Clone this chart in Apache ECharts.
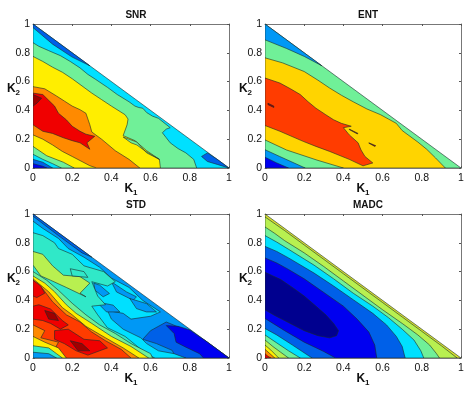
<!DOCTYPE html>
<html><head><meta charset="utf-8">
<script src="https://cdn.jsdelivr.net/npm/echarts@6/dist/echarts.min.js"></script>
<style>html,body{margin:0;padding:0;background:#fff}#c{width:474px;height:395px}</style>
</head><body><div id="c"></div>
<script>
const tickLabels = [0, 0.2, 0.4, 0.6, 0.8, 1];
const titles = ['SNR', 'ENT', 'STD', 'MADC'];
const jet = {navy:'#00008f', blue:'#0000f0', royal:'#0060e8', azure:'#0098f5', cyan:'#00e0ff', teal:'#30e8c8', green:'#70f098', lime:'#b8f050', olive:'#d8e030', yellow:'#ffee00', gold:'#ffd400', orange:'#ff8a00', tomato:'#ff3c00', red:'#f00000', dark:'#a00000'};

const whole = [[0,0],[1,0],[0,1]];

// SNR contour outlines (k1,k2)
const snrTop = [[0,1],[0.29,0.71],[0.2,0.77],[0.1,0.86],[0,0.975]];
const snrPatch = [[0.86,0.08],[0.89,0.105],[0.94,0.06],[1,0],[0.94,0.025],[0.89,0.045]];
const snrGreen = [[0,0.87],[0.03,0.845],[0.08,0.815],[0.14,0.78],[0.19,0.74],[0.24,0.695],[0.28,0.65],[0.32,0.615],[0.38,0.56],[0.43,0.51],[0.49,0.46],[0.52,0.43],[0.54,0.42],[0.56,0.415],[0.58,0.385],[0.61,0.36],[0.64,0.345],[0.7,0.28],[0.68,0.27],[0.66,0.245],[0.68,0.21],[0.7,0.175],[0.74,0.135],[0.78,0.105],[0.82,0.06],[0.835,0],[0,0]];
const snrYellow = [[0,0.775],[0.05,0.74],[0.1,0.70],[0.15,0.665],[0.2,0.62],[0.25,0.57],[0.3,0.52],[0.35,0.475],[0.4,0.43],[0.47,0.37],[0.485,0.34],[0.48,0.30],[0.46,0.225],[0.52,0.19],[0.58,0.12],[0.645,0.06],[0.65,0],[0,0]];
const snrSliver = [[0.46,0.215],[0.5,0.195],[0.53,0.18],[0.58,0.105],[0.645,0.06],[0.57,0.12],[0.53,0.16],[0.5,0.175]];
const snrOrange = [[0,0.565],[0.06,0.55],[0.12,0.50],[0.16,0.465],[0.2,0.43],[0.24,0.405],[0.27,0.38],[0.28,0.34],[0.29,0.3],[0.3,0.25],[0.35,0.2],[0.42,0.12],[0.49,0.06],[0.545,0],[0.325,0],[0.29,0.016],[0.2,0.08],[0.15,0.115],[0.1,0.16],[0.05,0.2],[0,0.23]];
const snrRed = [[0,0.52],[0.05,0.51],[0.08,0.47],[0.11,0.43],[0.13,0.38],[0.17,0.335],[0.2,0.29],[0.24,0.255],[0.27,0.235],[0.315,0.22],[0.275,0.175],[0.29,0.13],[0.24,0.175],[0.2,0.19],[0.155,0.21],[0.1,0.24],[0.05,0.255],[0,0.30]];
const snrDark = [[0,0.51],[0.044,0.485],[0.02,0.45],[0,0.43]];
const snrCornerGreen = [[0,0.15],[0.07,0.085],[0.155,0.04],[0.21,0],[0,0]];
const snrCornerCyan = [[0,0.095],[0.05,0.06],[0.1,0.03],[0.145,0],[0,0]];
const snrCornerAzure = [[0,0.06],[0.05,0.04],[0.1,0],[0,0]];
const snrCornerNavy = [[0,0.03],[0.05,0.012],[0.07,0],[0,0]];

// ENT contour outlines
const entTop = [[0,1],[0.29,0.71],[0.2,0.775],[0.11,0.83],[0,0.89]];
const entYellow = [[0,0.765],[0.09,0.73],[0.2,0.67],[0.27,0.61],[0.33,0.555],[0.39,0.505],[0.45,0.46],[0.52,0.41],[0.59,0.37],[0.63,0.34],[0.67,0.31],[0.7,0.26],[0.73,0.23],[0.78,0.18],[0.825,0.13],[0.87,0.07],[0.92,0],[0,0]];
const entRed = [[0,0.625],[0.076,0.59],[0.13,0.55],[0.18,0.51],[0.22,0.46],[0.26,0.415],[0.31,0.37],[0.35,0.335],[0.39,0.31],[0.44,0.29],[0.40,0.28],[0.43,0.23],[0.475,0.175],[0.49,0.125],[0.51,0.08],[0.55,0.035],[0.5,0.015],[0.43,0.06],[0.33,0.115],[0.26,0.15],[0.195,0.185],[0.076,0.255],[0,0.295]];
const entDark = [[0.015,0.45],[0.045,0.43],[0.045,0.42],[0.015,0.44]];
const entDash1 = [[0.53,0.175],[0.565,0.155],[0.56,0.15],[0.53,0.172]];
const entDash2 = [[0.43,0.27],[0.475,0.24],[0.47,0.237],[0.43,0.267]];
const entCornerGreen = [[0,0.195],[0.11,0.125],[0.265,0.055],[0.40,0],[0,0]];
const entCornerAzure = [[0,0.127],[0.075,0.08],[0.205,0],[0,0]];
const entCornerNavy = [[0,0.075],[0.06,0.035],[0.12,0],[0,0]];

// STD contour outlines
const stdTopDark = [[0,1],[0.3,0.7],[0.25,0.73],[0.13,0.85],[0,0.985]];
const stdRoyal = [[0.6,0.19],[0.68,0.25],[0.76,0.205],[0.88,0.12],[1,0],[0.73,0],[0.71,0.053],[0.63,0.1],[0.56,0.13]];
const stdLowDark = [[1,0],[0.88,0.12],[0.8,0.195],[0.74,0.22],[0.68,0.225],[0.72,0.17],[0.73,0.11],[0.78,0.075],[0.85,0.03],[0.87,0]];
const stdCyan = [[0,0.95],[0.05,0.90],[0.13,0.83],[0.18,0.76],[0.26,0.70],[0.34,0.63],[0.4,0.555],[0.49,0.49],[0.56,0.40],[0.65,0.32],[0.6,0.29],[0.5,0.27],[0.46,0.31],[0.38,0.33],[0.4,0.27],[0.46,0.2],[0.55,0.14],[0.58,0.1],[0.64,0.05],[0.72,0.03],[0.78,0],[0,0]];
const stdTeal = [[0,0.87],[0.05,0.85],[0.11,0.8],[0.13,0.76],[0.2,0.72],[0.26,0.64],[0.36,0.6],[0.42,0.53],[0.38,0.5],[0.3,0.53],[0.33,0.43],[0.37,0.37],[0.3,0.36],[0.33,0.3],[0.38,0.21],[0.47,0.15],[0.56,0.05],[0.62,0],[0,0]];
const stdBand = [[0,0.6],[0.07,0.54],[0.13,0.47],[0.2,0.38],[0.27,0.3],[0.34,0.23],[0.42,0.17],[0.5,0.1],[0.6,0.03],[0.61,0],[0,0]];
const stdLight = [[0,0.74],[0.05,0.72],[0.1,0.64],[0.155,0.575],[0.24,0.565],[0.29,0.52],[0.24,0.45],[0.27,0.425],[0.17,0.49],[0.09,0.54],[0.04,0.57],[0,0.645]];
const stdIsland1 = [[0.31,0.52],[0.34,0.506],[0.39,0.448],[0.358,0.425],[0.316,0.471]];
const stdIsland2 = [[0.4,0.529],[0.477,0.459],[0.528,0.425],[0.511,0.401],[0.426,0.459]];
const stdIsland3 = [[0.324,0.39],[0.409,0.367],[0.443,0.32],[0.375,0.32]];
const stdIsland4 = [[0.494,0.413],[0.579,0.378],[0.63,0.32],[0.579,0.32],[0.528,0.343]];
const stdCyanSpot = [[0.19,0.62],[0.26,0.6],[0.28,0.56],[0.2,0.57]];
const stdYellow = [[0,0.57],[0.06,0.52],[0.11,0.46],[0.17,0.37],[0.22,0.31],[0.3,0.24],[0.4,0.15],[0.5,0.08],[0.59,0],[0,0]];
const stdOrange = [[0,0.55],[0.08,0.46],[0.15,0.35],[0.2,0.3],[0.27,0.22],[0.37,0.14],[0.46,0.07],[0.54,0],[0,0]];
const stdTomato = [[0,0.54],[0.05,0.48],[0.1,0.39],[0.17,0.3],[0.24,0.25],[0.3,0.18],[0.37,0.12],[0.45,0.06],[0.5,0],[0.17,0],[0.11,0.06],[0.13,0.11],[0.04,0.14],[0.06,0.19],[0,0.23]];
const stdRed1 = [[0,0.36],[0.03,0.37],[0.09,0.34],[0.15,0.26],[0.18,0.23],[0.14,0.2],[0.09,0.24],[0.05,0.26],[0,0.27]];
const stdRed2 = [[0.11,0.19],[0.18,0.2],[0.26,0.13],[0.34,0.12],[0.38,0.07],[0.28,0.02],[0.22,0.05],[0.16,0.1],[0.11,0.13]];
const stdRed3 = [[0,0.54],[0.04,0.5],[0.06,0.45],[0.02,0.42],[0,0.43]];
const stdDark1 = [[0.06,0.33],[0.11,0.31],[0.13,0.26],[0.08,0.27]];
const stdDark2 = [[0.19,0.12],[0.25,0.1],[0.29,0.05],[0.23,0.05]];
const stdCornerYellow = [[0,0.15],[0.06,0.11],[0.13,0.07],[0.17,0],[0,0]];
const stdCornerGreen = [[0,0.085],[0.08,0.07],[0.12,0.03],[0.15,0],[0,0]];
const stdCornerCyan = [[0,0.04],[0.08,0.03],[0.12,0],[0,0]];

// MADC contour outlines
const madcLime = [[0,0.98],[0.1,0.885],[0.2,0.785],[0.3,0.685],[0.4,0.585],[0.5,0.485],[0.6,0.385],[0.7,0.285],[0.8,0.185],[0.9,0.085],[0.98,0],[0,0]];
const madcGreen = [[0,0.91],[0.05,0.865],[0.1,0.815],[0.2,0.73],[0.3,0.635],[0.4,0.535],[0.5,0.435],[0.6,0.335],[0.7,0.24],[0.78,0.16],[0.84,0.09],[0.875,0.03],[0.89,0],[0,0]];
const madcCyan = [[0,0.85],[0.06,0.805],[0.12,0.755],[0.25,0.645],[0.35,0.55],[0.45,0.45],[0.55,0.36],[0.63,0.28],[0.7,0.2],[0.76,0.125],[0.795,0.05],[0.81,0],[0,0]];
const madcAzure = [[0,0.775],[0.06,0.74],[0.12,0.695],[0.25,0.59],[0.35,0.5],[0.45,0.405],[0.55,0.31],[0.62,0.23],[0.67,0.15],[0.70,0.08],[0.715,0],[0,0]];
const madcBlue = [[0,0.695],[0.06,0.66],[0.12,0.615],[0.2,0.55],[0.3,0.455],[0.4,0.36],[0.47,0.27],[0.53,0.18],[0.56,0.09],[0.57,0],[0.36,0],[0.3,0.045],[0.2,0.11],[0.1,0.19],[0,0.275]];
const madcNavy = [[0,0.595],[0.04,0.57],[0.08,0.545],[0.15,0.48],[0.2,0.43],[0.26,0.36],[0.31,0.3],[0.35,0.24],[0.375,0.19],[0.365,0.155],[0.33,0.14],[0.27,0.155],[0.2,0.19],[0.1,0.26],[0.05,0.295],[0,0.335]];
const madcCornerCyan = [[0,0.205],[0.06,0.16],[0.14,0.09],[0.24,0],[0,0]];
const madcCornerGreen = [[0,0.16],[0.06,0.105],[0.12,0.05],[0.18,0],[0,0]];
const madcCornerLime = [[0,0.125],[0.04,0.08],[0.08,0.04],[0.12,0],[0,0]];
const madcCornerYellow = [[0,0.09],[0.03,0.055],[0.07,0],[0,0]];
const madcCornerOrange = [[0,0.06],[0.025,0.03],[0.05,0],[0,0]];
const madcCornerRed = [[0,0.03],[0.015,0.012],[0.03,0],[0,0]];

const panels = [
 [[jet.cyan,whole],[jet.royal,snrTop],[jet.royal,snrPatch],[jet.green,snrGreen],[jet.yellow,snrYellow],[jet.green,snrSliver],[jet.orange,snrOrange],[jet.red,snrRed],[jet.dark,snrDark],[jet.green,snrCornerGreen],[jet.cyan,snrCornerCyan],[jet.royal,snrCornerAzure],[jet.blue,snrCornerNavy]],
 [[jet.green,whole],[jet.azure,entTop],[jet.gold,entYellow],[jet.tomato,entRed],[jet.dark,entDark],[jet.dark,entDash1],[jet.dark,entDash2],[jet.green,entCornerGreen],[jet.azure,entCornerAzure],[jet.blue,entCornerNavy]],
 [[jet.azure,whole],[jet.royal,stdTopDark],[jet.royal,stdRoyal],[jet.blue,stdLowDark],[jet.cyan,stdCyan],[jet.azure,stdIsland1],[jet.azure,stdIsland2],[jet.azure,stdIsland3],[jet.azure,stdIsland4],[jet.teal,stdTeal],[jet.lime,stdLight],[jet.teal,stdCyanSpot],[jet.green,stdBand],[jet.yellow,stdYellow],[jet.orange,stdOrange],[jet.tomato,stdTomato],[jet.red,stdRed1],[jet.red,stdRed2],[jet.red,stdRed3],[jet.dark,stdDark1],[jet.dark,stdDark2],[jet.yellow,stdCornerYellow],[jet.teal,stdCornerGreen],[jet.azure,stdCornerCyan]],
 [[jet.olive,whole],[jet.lime,madcLime],[jet.green,madcGreen],[jet.cyan,madcCyan],[jet.royal,madcAzure],[jet.blue,madcBlue],[jet.navy,madcNavy],[jet.cyan,madcCornerCyan],[jet.green,madcCornerGreen],[jet.lime,madcCornerLime],[jet.yellow,madcCornerYellow],[jet.orange,madcCornerOrange],[jet.red,madcCornerRed]]
];

const grids = [
 {left:33,top:24,width:196,height:144,outerBoundsMode:'none'},
 {left:265,top:24,width:196,height:144,outerBoundsMode:'none'},
 {left:33,top:214,width:196,height:144,outerBoundsMode:'none'},
 {left:265,top:214,width:196,height:144,outerBoundsMode:'none'}
];
const font = {fontFamily:'Liberation Sans, Arial, sans-serif', color:'#111'};
const xAxis = [], yAxis = [], series = [], title = [];
const axisBase = {type:'value',min:0,max:1,interval:0.2,splitLine:{show:false},
  axisLine:{onZero:false,lineStyle:{color:'#777',width:1}},
  axisTick:{inside:true,length:2,lineStyle:{color:'#555'}}};
const sub = {fontSize:8,fontWeight:'bold',padding:[8,0,0,0],fontFamily:font.fontFamily,color:'#111'};
const xName = {...font,fontSize:12,fontWeight:'bold',rich:{s:sub}};
const yName = {...font,fontSize:12,fontWeight:'bold',padding:[0,0,14,0],rich:{s:sub}};
grids.forEach((g,i)=>{
  const fmt = v => { const t = tickLabels.find(x=>Math.abs(x-v)<1e-6); return t===undefined?'':String(t); };
  xAxis.push({...axisBase,gridIndex:i,position:'bottom',name:'K{s|1}',nameLocation:'middle',nameGap:13,nameMoveOverlap:false,nameTextStyle:xName,
    axisLabel:{...font,fontSize:10.5,margin:5,formatter:fmt,showMinLabel:true,showMaxLabel:true}});
  xAxis.push({...axisBase,gridIndex:i,position:'top',axisLabel:{show:false}});
  yAxis.push({...axisBase,gridIndex:i,position:'left',name:'K{s|2}',nameLocation:'middle',nameGap:13,nameRotate:0,nameMoveOverlap:false,nameTextStyle:yName,
    axisLabel:{...font,fontSize:10.5,margin:3,formatter:fmt,showMinLabel:true,showMaxLabel:true}});
  yAxis.push({...axisBase,gridIndex:i,position:'right',axisLabel:{show:false}});
  title.push({text:titles[i],left:g.left+g.width/2,top:g.top-19,textAlign:'center',
    textStyle:{...font,fontSize:10,fontWeight:'bold'}});
  const layers = panels[i];
  series.push({type:'custom',xAxisIndex:i*2,yAxisIndex:i*2,coordinateSystem:'cartesian2d',clip:true,silent:true,
    data:layers.map((l,j)=>[j]),
    encode:{x:-1,y:-1},
    renderItem:(p,api)=>{
      const l = layers[api.value(0)];
      return {type:'polygon',shape:{points:l[1].map(q=>api.coord(q))},
        style:{fill:l[0],stroke:'#1a2a2a',lineWidth:0.6}};
    }});
});
const chart = echarts.init(document.getElementById('c'),null,{renderer:'canvas'});
chart.setOption({animation:false,backgroundColor:'#fff',grid:grids,xAxis,yAxis,series,title});
</script></body></html>
